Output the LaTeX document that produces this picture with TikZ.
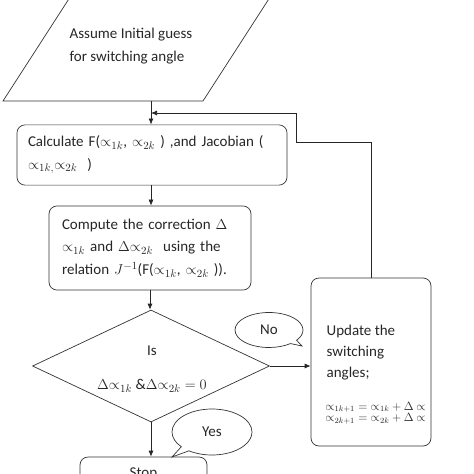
\documentclass[tikz,border=0pt]{standalone}
\usepackage{fontspec}
\setmainfont{Carlito}
\usepackage{amsmath}
\usetikzlibrary{shapes.geometric,shapes.callouts,arrows.meta,positioning,calc}

\newcommand{\ang}{\mathord{\propto}}

\begin{document}
\begin{tikzpicture}[
    x=1pt, y=-1pt,
    line width=0.7pt,
    box/.style={rectangle, rounded corners=8pt, draw=black!80, align=left, text=black!85, font=\fontsize{15}{22.5}\selectfont},
    decision/.style={diamond, draw=black!80, minimum width=237pt, minimum height=112pt, inner sep=0pt},
    bubble/.style={ellipse callout, draw=black!80, text=black!85, font=\fontsize{15}{17}\selectfont},
    flow/.style={-{Latex[length=6pt,width=5pt]}, draw=black!85},
    label/.style={text=black!85, align=left, font=\fontsize{15}{21}\selectfont}
]
    % Page frame (the picture is cut at the edges)
    \path[use as bounding box, clip] (0,0) rectangle (474,474);

    % Input parallelogram
    \draw[draw=black!80] (3,101) -- (203,101) -- (274,-9) -- (74,-9) -- cycle;
    \node[label, font=\fontsize{15}{23}\selectfont] (guess) at (131,46) {Assume Initial guess\\for switching angle};
    \coordinate (guessout) at (151,101);

    % Process boxes
    \node[box, text width=248pt, inner sep=11pt, minimum height=52pt] (calc) at (152,155)
        {Calculate F($\ang_{1k}$, $\ang_{2k}$ ) ,and Jacobian (\\$\ang_{1k,}\ang_{2k}$ \ )};
    \node[box, text width=176pt, inner sep=13pt, minimum height=71pt] (compute) at (150,248)
        {Compute the correction $\Delta$\\$\ang_{1k}$ and $\Delta\ang_{2k}$ \ using the\\relation $J^{-1}$(F($\ang_{1k}$, $\ang_{2k}$ )).};

    % Decision
    \node[decision] (dec) at (151,366) {};
    \node[label] (is) at (152,351) {Is};
    \node[label] (cond) at (152,386) {$\Delta\ang_{1k}$ \&$\Delta\ang_{2k} = 0$};

    % Update box
    \node[box, minimum width=120pt, minimum height=168pt] (update) at (371,362) {};
    \node[label, anchor=west] (updtxt) at (323,353) {Update the\\switching\\angles;};
    \begin{scope}
        \clip (update.south west) rectangle (update.north east);
        \node[label, anchor=west, inner sep=0pt, font=\fontsize{12}{11.5}\selectfont] (updeq) at (325,413)
            {$\ang_{1k+1} = \ang_{1k} + \Delta\ \ang$\\$\ang_{2k+1} = \ang_{2k} + \Delta\ \ang$};
    \end{scope}

    % Stop
    \node[box, align=center, minimum width=127pt, minimum height=34pt] (stop) at (143.5,474) {Stop};

    % Callouts
    \node[bubble, minimum width=68pt, minimum height=35pt, callout absolute pointer={(302,346)}] (no) at (269,330) {No};
    \node[bubble, minimum width=80pt, minimum height=46pt, callout absolute pointer={(172,457)}] (yes) at (212,432) {Yes};

    % Flow lines
    \coordinate (loopin) at (151,113);
    \coordinate (jog) at (296,142);
    \draw[flow] (guessout) -- (guessout |- calc.north);
    \draw[flow] (guessout |- calc.south) -- (guessout |- compute.north);
    \draw[flow] (compute) -- (compute.south |- dec.north);
    \draw[flow] (dec.east) -- (dec.east -| update.west);
    \draw[flow] (dec.south) -- (dec.south |- stop.north);
    \draw[flow] (update.north) |- (jog) |- (loopin);
\end{tikzpicture}
\end{document}
